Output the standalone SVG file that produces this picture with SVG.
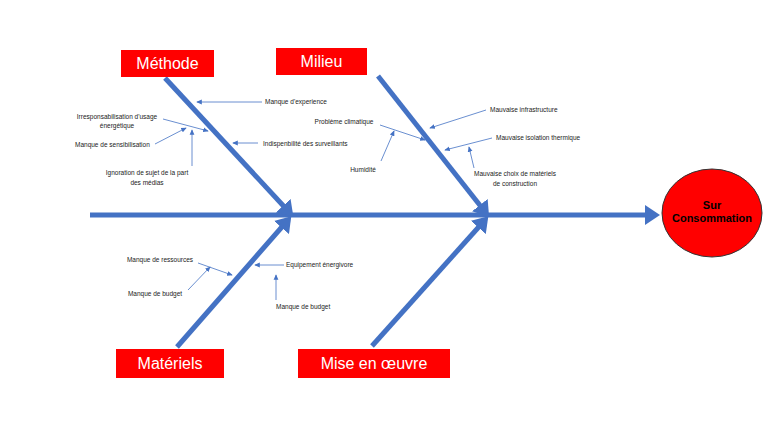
<svg xmlns="http://www.w3.org/2000/svg" width="768" height="433" viewBox="0 0 768 433">
<style>
.bone{stroke:#4472C4;stroke-width:5;fill:none}
.thin{stroke:#4472C4;stroke-width:0.8;fill:none}
.lbl{font-family:"Liberation Sans",Arial,sans-serif;font-size:6.5px;fill:#222}
.box{fill:#FF0000}
.bt{font-family:"Liberation Sans",Arial,sans-serif;font-size:16px;fill:#fff;text-anchor:middle}
</style>
<defs>
<marker id="big" markerWidth="4" markerHeight="4" refX="2" refY="2" orient="auto" markerUnits="strokeWidth"><path d="M0,0L3,2L0,4z" fill="#4472C4"/></marker>
<marker id="sm" markerWidth="8" markerHeight="8" refX="6" refY="4" orient="auto" markerUnits="strokeWidth"><path d="M0,1L7,4L0,7z" fill="#4472C4"/></marker>
</defs>
<rect width="768" height="433" fill="#fff"/>
<g id="connectors">
<line class="bone" x1="90" y1="215" x2="655" y2="215" marker-end="url(#big)"/>
<line class="bone" x1="165" y1="78" x2="290" y2="213" marker-end="url(#big)"/>
<line class="bone" x1="378" y1="76" x2="486" y2="213" marker-end="url(#big)"/>
<line class="bone" x1="177" y1="347" x2="288" y2="220" marker-end="url(#big)"/>
<line class="bone" x1="372" y1="346" x2="485" y2="220" marker-end="url(#big)"/>
<line class="thin" x1="262" y1="102" x2="197" y2="102" marker-end="url(#sm)"/>
<line class="thin" x1="163" y1="119" x2="208" y2="131" marker-end="url(#sm)"/>
<line class="thin" x1="155" y1="144" x2="186" y2="128" marker-end="url(#sm)"/>
<line class="thin" x1="192" y1="166" x2="192" y2="130" marker-end="url(#sm)"/>
<line class="thin" x1="258" y1="143" x2="233" y2="143" marker-end="url(#sm)"/>
<line class="thin" x1="380" y1="125" x2="425" y2="140" marker-end="url(#sm)"/>
<line class="thin" x1="381" y1="161" x2="394" y2="131" marker-end="url(#sm)"/>
<line class="thin" x1="486" y1="110" x2="430" y2="128" marker-end="url(#sm)"/>
<line class="thin" x1="492" y1="138" x2="445" y2="150" marker-end="url(#sm)"/>
<line class="thin" x1="474" y1="168" x2="469" y2="147" marker-end="url(#sm)"/>
<line class="thin" x1="198" y1="263" x2="232" y2="275" marker-end="url(#sm)"/>
<line class="thin" x1="188" y1="290" x2="210" y2="267" marker-end="url(#sm)"/>
<line class="thin" x1="284" y1="265" x2="255" y2="265" marker-end="url(#sm)"/>
<line class="thin" x1="276" y1="300" x2="276" y2="275" marker-end="url(#sm)"/>
</g>
<g id="methode"><rect class="box" x="121" y="50" width="93" height="27"/><text class="bt" x="167.5" y="69">Méthode</text></g>
<g id="milieu"><rect class="box" x="276" y="48" width="91" height="27"/><text class="bt" x="321.5" y="67">Milieu</text></g>
<g id="materiels"><rect class="box" x="116" y="349" width="108" height="29"/><text class="bt" x="170" y="369">Matériels</text></g>
<g id="mise"><rect class="box" x="298" y="349" width="152" height="29"/><text class="bt" x="374" y="369">Mise en œuvre</text></g>
<g id="effect"><ellipse cx="712" cy="213" rx="50" ry="44" fill="#FF0000" stroke="#333" stroke-width="1"/>
<text x="712" y="209" font-family="Liberation Sans,Arial,sans-serif" font-size="11" font-weight="bold" text-anchor="middle">Sur</text>
<text x="712" y="222" font-family="Liberation Sans,Arial,sans-serif" font-size="11" font-weight="bold" text-anchor="middle">Consommation</text></g>
<g id="labels">
<text class="lbl" x="265" y="104">Manque d'experience</text>
<text class="lbl" x="117" y="119" text-anchor="middle">Irresponsabilisation d'usage</text>
<text class="lbl" x="117" y="128" text-anchor="middle">énergétique</text>
<text class="lbl" x="75" y="147">Manque de sensibilisation</text>
<text class="lbl" x="147" y="175" text-anchor="middle">Ignoration de sujet de la part</text>
<text class="lbl" x="147" y="185" text-anchor="middle">des médias</text>
<text class="lbl" x="263" y="146">Indispenbilité des surveillants</text>
<text class="lbl" x="344" y="124" text-anchor="middle">Problème climatique</text>
<text class="lbl" x="363" y="172" text-anchor="middle">Humidité</text>
<text class="lbl" x="490" y="112">Mauvaise infrastructure</text>
<text class="lbl" x="496" y="140">Mauvaise isolation thermique</text>
<text class="lbl" x="515" y="176" text-anchor="middle">Mauvaise choix de matériels</text>
<text class="lbl" x="515" y="186" text-anchor="middle">de construction</text>
<text class="lbl" x="160" y="262" text-anchor="middle">Manque de ressources</text>
<text class="lbl" x="155" y="296" text-anchor="middle">Manque de budget</text>
<text class="lbl" x="286" y="267">Equipement énergivore</text>
<text class="lbl" x="276" y="309">Manque de budget</text>
</g>
</svg>
